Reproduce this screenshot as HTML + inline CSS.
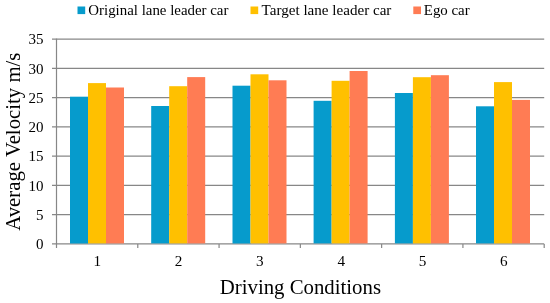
<!DOCTYPE html>
<html><head><meta charset="utf-8"><title>Average Velocity</title>
<style>
html,body{margin:0;padding:0;background:#fff;}
svg{display:block;font-family:"Liberation Serif","Times New Roman",serif;fill:#000;}
</style></head><body>
<svg width="550" height="303" viewBox="0 0 550 303">
<rect width="550" height="303" fill="#fff"/>
<line x1="52" y1="243.95" x2="544.2" y2="243.95" stroke="#878787" stroke-width="1.2"/>
<line x1="52" y1="214.69" x2="544.2" y2="214.69" stroke="#878787" stroke-width="1.2"/>
<line x1="52" y1="185.44" x2="544.2" y2="185.44" stroke="#878787" stroke-width="1.2"/>
<line x1="52" y1="156.18" x2="544.2" y2="156.18" stroke="#878787" stroke-width="1.2"/>
<line x1="52" y1="126.92" x2="544.2" y2="126.92" stroke="#878787" stroke-width="1.2"/>
<line x1="52" y1="97.66" x2="544.2" y2="97.66" stroke="#878787" stroke-width="1.2"/>
<line x1="52" y1="68.41" x2="544.2" y2="68.41" stroke="#878787" stroke-width="1.2"/>
<line x1="52" y1="39.15" x2="544.2" y2="39.15" stroke="#878787" stroke-width="1.2"/>
<rect x="70.0" y="96.7" width="18.0" height="146.8" fill="#069BCC"/>
<rect x="88.0" y="83.1" width="18.0" height="160.3" fill="#FFC000"/>
<rect x="106.0" y="87.5" width="18.0" height="155.9" fill="#FF7C54"/>
<rect x="151.2" y="106.0" width="18.0" height="137.4" fill="#069BCC"/>
<rect x="169.2" y="86.2" width="18.0" height="157.2" fill="#FFC000"/>
<rect x="187.2" y="77.1" width="18.0" height="166.3" fill="#FF7C54"/>
<rect x="232.5" y="85.7" width="18.0" height="157.8" fill="#069BCC"/>
<rect x="250.5" y="74.3" width="18.0" height="169.1" fill="#FFC000"/>
<rect x="268.5" y="80.3" width="18.0" height="163.1" fill="#FF7C54"/>
<rect x="313.6" y="100.8" width="18.0" height="142.6" fill="#069BCC"/>
<rect x="331.6" y="80.8" width="18.0" height="162.6" fill="#FFC000"/>
<rect x="349.6" y="71.0" width="18.0" height="172.4" fill="#FF7C54"/>
<rect x="394.9" y="93.0" width="18.0" height="150.4" fill="#069BCC"/>
<rect x="412.9" y="77.2" width="18.0" height="166.2" fill="#FFC000"/>
<rect x="430.9" y="75.2" width="18.0" height="168.2" fill="#FF7C54"/>
<rect x="476.0" y="106.3" width="18.0" height="137.1" fill="#069BCC"/>
<rect x="494.0" y="82.1" width="18.0" height="161.3" fill="#FFC000"/>
<rect x="512.0" y="99.9" width="18.0" height="143.5" fill="#FF7C54"/>
<line x1="56.5" y1="38.6" x2="56.5" y2="248" stroke="#878787" stroke-width="1.2"/>
<line x1="137.78" y1="243.9" x2="137.78" y2="248" stroke="#878787" stroke-width="1.2"/>
<line x1="219.07" y1="243.9" x2="219.07" y2="248" stroke="#878787" stroke-width="1.2"/>
<line x1="300.35" y1="243.9" x2="300.35" y2="248" stroke="#878787" stroke-width="1.2"/>
<line x1="381.63" y1="243.9" x2="381.63" y2="248" stroke="#878787" stroke-width="1.2"/>
<line x1="462.92" y1="243.9" x2="462.92" y2="248" stroke="#878787" stroke-width="1.2"/>
<line x1="544.20" y1="243.9" x2="544.20" y2="248" stroke="#878787" stroke-width="1.2"/>
<text x="43.6" y="249.1" font-size="15" text-anchor="end">0</text>
<text x="43.6" y="219.9" font-size="15" text-anchor="end">5</text>
<text x="43.6" y="190.6" font-size="15" text-anchor="end">10</text>
<text x="43.6" y="161.4" font-size="15" text-anchor="end">15</text>
<text x="43.6" y="132.1" font-size="15" text-anchor="end">20</text>
<text x="43.6" y="102.9" font-size="15" text-anchor="end">25</text>
<text x="43.6" y="73.6" font-size="15" text-anchor="end">30</text>
<text x="43.6" y="44.4" font-size="15" text-anchor="end">35</text>
<text x="97.3" y="266.1" font-size="15.2" text-anchor="middle">1</text>
<text x="178.6" y="266.1" font-size="15.2" text-anchor="middle">2</text>
<text x="259.9" y="266.1" font-size="15.2" text-anchor="middle">3</text>
<text x="341.2" y="266.1" font-size="15.2" text-anchor="middle">4</text>
<text x="422.5" y="266.1" font-size="15.2" text-anchor="middle">5</text>
<text x="503.8" y="266.1" font-size="15.2" text-anchor="middle">6</text>
<rect x="77.5" y="6.5" width="7.7" height="7.6" fill="#069BCC"/>
<text x="88.3" y="15.1" font-size="14.9">Original lane leader car</text>
<rect x="250.5" y="6.5" width="7.7" height="7.6" fill="#FFC000"/>
<text x="261.6" y="15.1" font-size="15.1">Target lane leader car</text>
<rect x="413.3" y="6.5" width="7.7" height="7.6" fill="#FF7C54"/>
<text x="423.8" y="15.1" font-size="14.9">Ego car</text>
<text x="219.8" y="293.6" font-size="20.8">Driving Conditions</text>
<text transform="translate(19.6,230.8) rotate(-90)" font-size="20.8">Average Velocity m/s</text>
</svg>
</body></html>
